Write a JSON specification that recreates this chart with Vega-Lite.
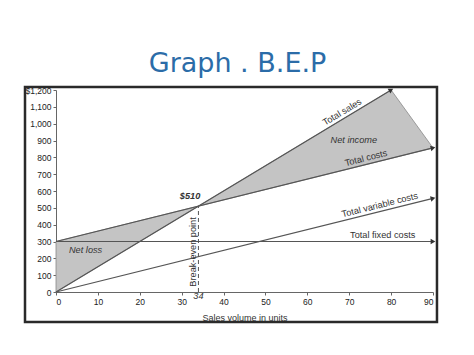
{
  "$schema": "https://vega.github.io/schema/vega-lite/v6.json",
  "width": 377,
  "height": 202,
  "autosize": {"type": "none"},
  "padding": {"left": 56, "top": 90, "right": 41, "bottom": 63},
  "background": "white",
  "title": {"text": "Graph . B.E.P", "fontSize": 27, "font": "DejaVu Sans", "fontWeight": "normal", "color": "#2b6ca8", "anchor": "middle", "offset": 8, "dx": -7},
  "config": {
    "view": {"stroke": null},
    "axis": {"grid": false, "domainColor": "#666", "tickColor": "#666", "tickSize": 3, "labelFontSize": 8.5, "labelColor": "#222", "labelFont": "Liberation Sans", "labelOverlap": false, "titleFont": "Liberation Sans", "titleFontWeight": "normal", "titleColor": "#333", "titleFontSize": 9},
    "text": {"font": "Liberation Sans", "fontSize": 9.2, "color": "#333"}
  },
  "datasets": {
    "lines": [
      {"line": "Total sales", "units": 0, "value": 0},
      {"line": "Total sales", "units": 80, "value": 1200},
      {"line": "Total costs", "units": 0, "value": 300},
      {"line": "Total costs", "units": 90, "value": 856},
      {"line": "Total variable costs", "units": 0, "value": 0},
      {"line": "Total variable costs", "units": 90, "value": 556},
      {"line": "Total fixed costs", "units": 0, "value": 300},
      {"line": "Total fixed costs", "units": 90, "value": 300}
    ],
    "regions": [
      {"region": "Net loss", "units": 0, "value": 300, "lower": 0},
      {"region": "Net loss", "units": 34, "value": 510, "lower": 510},
      {"region": "Net income", "units": 34, "value": 510, "lower": 510},
      {"region": "Net income", "units": 80, "value": 1200, "lower": 794},
      {"region": "Net income", "units": 90, "value": 856, "lower": 856}
    ]
  },
  "encoding": {
    "x": {"field": "units", "type": "quantitative", "scale": {"domain": [0, 90], "nice": false}, "axis": {"title": "Sales volume in units", "values": [0,10,20,30,40,50,60,70,80,90], "labelPadding": 2, "titlePadding": 8}},
    "y": {"field": "value", "type": "quantitative", "scale": {"domain": [0, 1200], "nice": false}, "axis": {"title": null, "values": [0,100,200,300,400,500,600,700,800,900,1000,1100,1200], "labelExpr": "datum.value == 1200 ? '$1,200' : format(datum.value, ',')", "labelPadding": 2}}
  },
  "layer": [
    {
      "data": {"name": "regions"},
      "mark": {"type": "area", "fill": "#c4c4c4", "stroke": "#888", "strokeWidth": 0.8},
      "encoding": {"y2": {"field": "lower"}, "detail": {"field": "region"}}
    },
    {
      "data": {"name": "lines"},
      "mark": {"type": "line", "color": "#555", "strokeWidth": 1.2},
      "encoding": {"detail": {"field": "line"}}
    },
    {
      "data": {"values": [{"units": 34, "value": 0, "high": 510}]},
      "mark": {"type": "rule", "color": "#555", "strokeDash": [4, 3], "strokeWidth": 1},
      "encoding": {"y2": {"field": "high"}}
    },
    {
      "data": {"values": [{"units": 80, "value": 1200}]},
      "mark": {"type": "point", "shape": "triangle-right", "size": 30, "filled": true, "color": "#333", "opacity": 1, "angle": 329},
      "encoding": {}
    },
    {
      "data": {"values": [{"units": 90, "value": 856}, {"units": 90, "value": 556}]},
      "mark": {"type": "point", "shape": "triangle-right", "size": 30, "filled": true, "color": "#333", "opacity": 1, "angle": 346},
      "encoding": {}
    },
    {
      "data": {"values": [{"units": 90, "value": 300}]},
      "mark": {"type": "point", "shape": "triangle-right", "size": 30, "filled": true, "color": "#333", "opacity": 1},
      "encoding": {}
    },
    {
      "data": {"values": [{"label": "Total sales", "units": 68.3, "value": 1069}]},
      "mark": {"type": "text", "angle": 329},
      "encoding": {"text": {"field": "label"}}
    },
    {
      "data": {"values": [{"label": "Total costs", "units": 74, "value": 796}, {"label": "Total variable costs", "units": 77.3, "value": 517}]},
      "mark": {"type": "text", "angle": 346},
      "encoding": {"text": {"field": "label"}}
    },
    {
      "data": {"values": [{"label": "Total fixed costs", "units": 78, "value": 339}]},
      "mark": {"type": "text"},
      "encoding": {"text": {"field": "label"}}
    },
    {
      "data": {"values": [{"label": "Net income", "units": 71.1, "value": 903}, {"label": "34", "units": 34, "value": -24}]},
      "mark": {"type": "text", "fontStyle": "italic"},
      "encoding": {"text": {"field": "label"}}
    },
    {
      "data": {"values": [{"label": "Net loss", "units": 3.1, "value": 250}]},
      "mark": {"type": "text", "fontStyle": "italic", "align": "left"},
      "encoding": {"text": {"field": "label"}}
    },
    {
      "data": {"values": [{"label": "$510", "units": 32, "value": 570}]},
      "mark": {"type": "text", "fontStyle": "italic", "fontWeight": "bold"},
      "encoding": {"text": {"field": "label"}}
    },
    {
      "data": {"values": [{"label": "Break-even point", "units": 32.6, "value": 238}]},
      "mark": {"type": "text", "angle": 270},
      "encoding": {"text": {"field": "label"}}
    },
    {
      "data": {"values": [{"units": -7.4, "x1": 90.95, "value": -178, "y1": 1218}]},
      "mark": {"type": "rect", "fill": null, "fillOpacity": 0, "stroke": "#2a2a2a", "strokeWidth": 2.5},
      "encoding": {"x2": {"field": "x1"}, "y2": {"field": "y1"}}
    }
  ]
}
